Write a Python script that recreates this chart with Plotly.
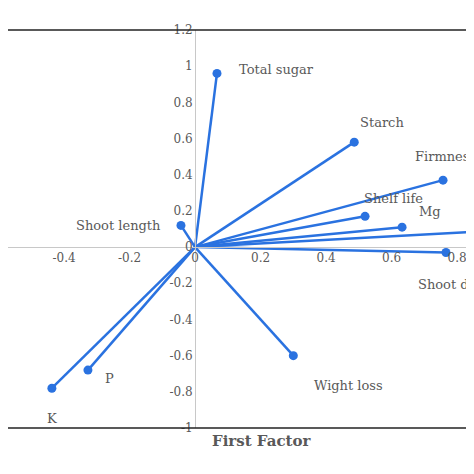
import plotly.graph_objects as go

names = ["Total sugar", "Starch", "Firmness", "Shelf life", "Mg", "Ca", "Shoot diameter",
         "Shoot length", "Wight loss", "P", "K"]
x_vals = [0.067, 0.486, 0.757, 0.519, 0.632, 0.90, 0.766, -0.043, 0.30, -0.327, -0.437]
y_vals = [0.96, 0.58, 0.37, 0.17, 0.11, 0.09, -0.03, 0.12, -0.60, -0.68, -0.78]
label_dx = [60, 28, 0, 28, 28, 0, 0, -62, 55, 22, 0]
label_dy = [-4, -20, -24, -18, -16, 0, 32, 0, 30, 8, 30]
x_ticks = [-0.6, -0.4, -0.2, 0, 0.2, 0.4, 0.6, 0.8]
y_ticks = [-1, -0.8, -0.6, -0.4, -0.2, 0, 0.2, 0.4, 0.6, 0.8, 1, 1.2]

blue = "#2a72e0"
grey = "#595959"
font = "DejaVu Serif"

lx, ly = [], []
for a, b in zip(x_vals, y_vals):
    lx += [0, a, None]
    ly += [0, b, None]

fig = go.Figure()
fig.add_trace(go.Scatter(x=lx, y=ly, mode="lines", line=dict(color=blue, width=2.5),
                         hoverinfo="skip", showlegend=False))
fig.add_trace(go.Scatter(x=x_vals, y=y_vals, mode="markers", marker=dict(color=blue, size=9),
                         showlegend=False, cliponaxis=True))

for n, a, b, dx, dy in zip(names, x_vals, y_vals, label_dx, label_dy):
    if n == "Ca":
        continue
    anchor = "center"
    if n in ("Firmness", "Shoot diameter"):
        anchor = "left"
        dx = -30
        text = "Firmness" if n == "Firmness" else "Shoot d."
    else:
        text = n
    fig.add_annotation(x=a, y=b, text=text, showarrow=False, xshift=dx, yshift=-dy,
                       xanchor=anchor, font=dict(family=font, size=13, color=grey))

xmin, xmax = -0.571, 0.876
ymin, ymax = -1.0, 1.2
fig.update_layout(
    width=474, height=474, margin=dict(l=0, r=0, t=22, b=54),
    paper_bgcolor="white", plot_bgcolor="white",
    font=dict(family=font, color=grey, size=12),
    xaxis=dict(range=[xmin, xmax], tickvals=x_ticks, ticktext=[str(v) for v in x_ticks],
               showgrid=False, zeroline=False, showline=True, linecolor="#c8c8c8",
               anchor="free", position=(0 - ymin) / (ymax - ymin), ticks="",
               tickfont=dict(family=font, size=12, color=grey)),
    yaxis=dict(range=[ymin, ymax], tickvals=y_ticks, ticktext=[str(v) for v in y_ticks],
               showgrid=False, zeroline=False, showline=True, linecolor="#c8c8c8",
               anchor="free", position=(0 - xmin) / (xmax - xmin), ticks="",
               tickfont=dict(family=font, size=12, color=grey)),
)
for yy in [1, 0]:
    fig.add_shape(type="line", xref="paper", yref="paper", x0=0, x1=1, y0=yy, y1=yy,
                  line=dict(color="#222222", width=1.5))
fig.add_annotation(xref="paper", yref="paper", x=253 / 474, y=-0.06, text="<b>First Factor</b>",
                   showarrow=False, font=dict(family=font, size=15, color=grey))
fig.write_html("out.html")
